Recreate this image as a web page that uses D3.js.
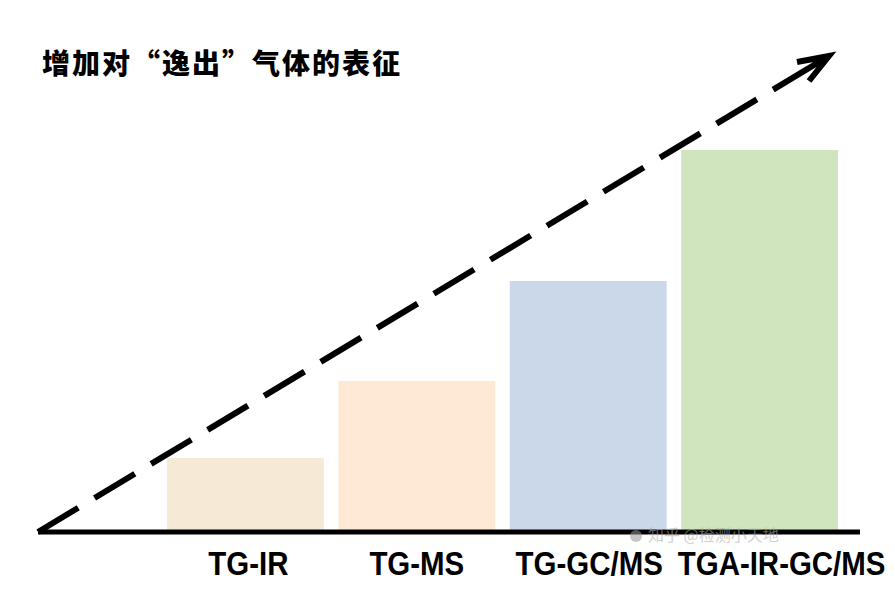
<!DOCTYPE html>
<html><head><meta charset="utf-8">
<script src="https://cdn.jsdelivr.net/npm/d3@7/dist/d3.min.js"></script>
<style>html,body{margin:0;padding:0;background:#fff;}svg{display:block;}</style>
</head><body>
<svg id="c" width="895" height="594"></svg>
<script>
const categories = ["TG-IR", "TG-MS", "TG-GC/MS", "TGA-IR-GC/MS"];
const values = [72, 149, 249, 380];
const colors = ["#f6e9d6", "#fde9d4", "#cad8e9", "#d0e4bd"];
const title = "增加对“逸出”气体的表征";
const watermark = "知乎 @检测小天地";

const svg = d3.select("#c");
const x = d3.scaleBand().domain(categories).range([167, 838]).paddingInner(0.085).paddingOuter(0);
const y = d3.scaleLinear().domain([0, 400]).range([530, 130]);

// bars
svg.selectAll("rect.bar").data(categories).join("rect")
  .attr("class", "bar")
  .attr("x", d => x(d))
  .attr("width", x.bandwidth())
  .attr("y", (d, i) => y(values[i]))
  .attr("height", (d, i) => y(0) - y(values[i]))
  .attr("fill", (d, i) => colors[i]);

// baseline
svg.append("line").attr("x1", 38).attr("x2", 860).attr("y1", y(0) + 2).attr("y2", y(0) + 2)
  .attr("stroke", "#000").attr("stroke-width", 5);

// dashed trend arrow
const x0 = 38, y0 = 532, x1 = 829, y1 = 56;
const L = Math.hypot(x1 - x0, y1 - y0);
const ux = (x1 - x0) / L, uy = (y1 - y0) / L;
const solidStart = 858;
svg.append("line").attr("x1", x0).attr("y1", y0)
  .attr("x2", x0 + ux * solidStart).attr("y2", y0 + uy * solidStart)
  .attr("stroke", "#000").attr("stroke-width", 6).attr("stroke-dasharray", "47,19");
svg.append("path")
  .attr("d", `M${x0 + ux * solidStart},${y0 + uy * solidStart} L${x1},${y1} M797,62 L${x1},${y1} L809,81`)
  .attr("fill", "none").attr("stroke", "#000").attr("stroke-width", 6)
  .attr("stroke-linejoin", "miter");

// title
svg.append("text").attr("x", 42).attr("y", 74)
  .attr("font-family", "'Noto Sans CJK SC', sans-serif").attr("font-weight", 900)
  .attr("font-size", 28).attr("letter-spacing", 2).attr("fill", "#000")
  .text(title);

// category labels
const offsets = [3, 0, 1, 22];
svg.selectAll("text.lab").data(categories).join("text")
  .attr("class", "lab")
  .attr("transform", (d, i) => `translate(${x(d) + x.bandwidth() / 2 + offsets[i]},575) scale(0.92,1.02)`)
  .attr("text-anchor", "middle")
  .attr("font-family", "'Liberation Sans', Arial, sans-serif").attr("font-weight", 700)
  .attr("font-size", 32).attr("fill", "#000")
  .text(d => d);

// watermark
const wm = svg.append("g").attr("opacity", 0.55);
wm.append("circle").attr("cx", 636).attr("cy", 536).attr("r", 6).attr("fill", "#999");
wm.append("text").attr("x", 648).attr("y", 541)
  .attr("font-family", "'Noto Sans CJK SC', sans-serif").attr("font-size", 16)
  .attr("fill", "#aaa").text(watermark);
</script>
</body></html>
